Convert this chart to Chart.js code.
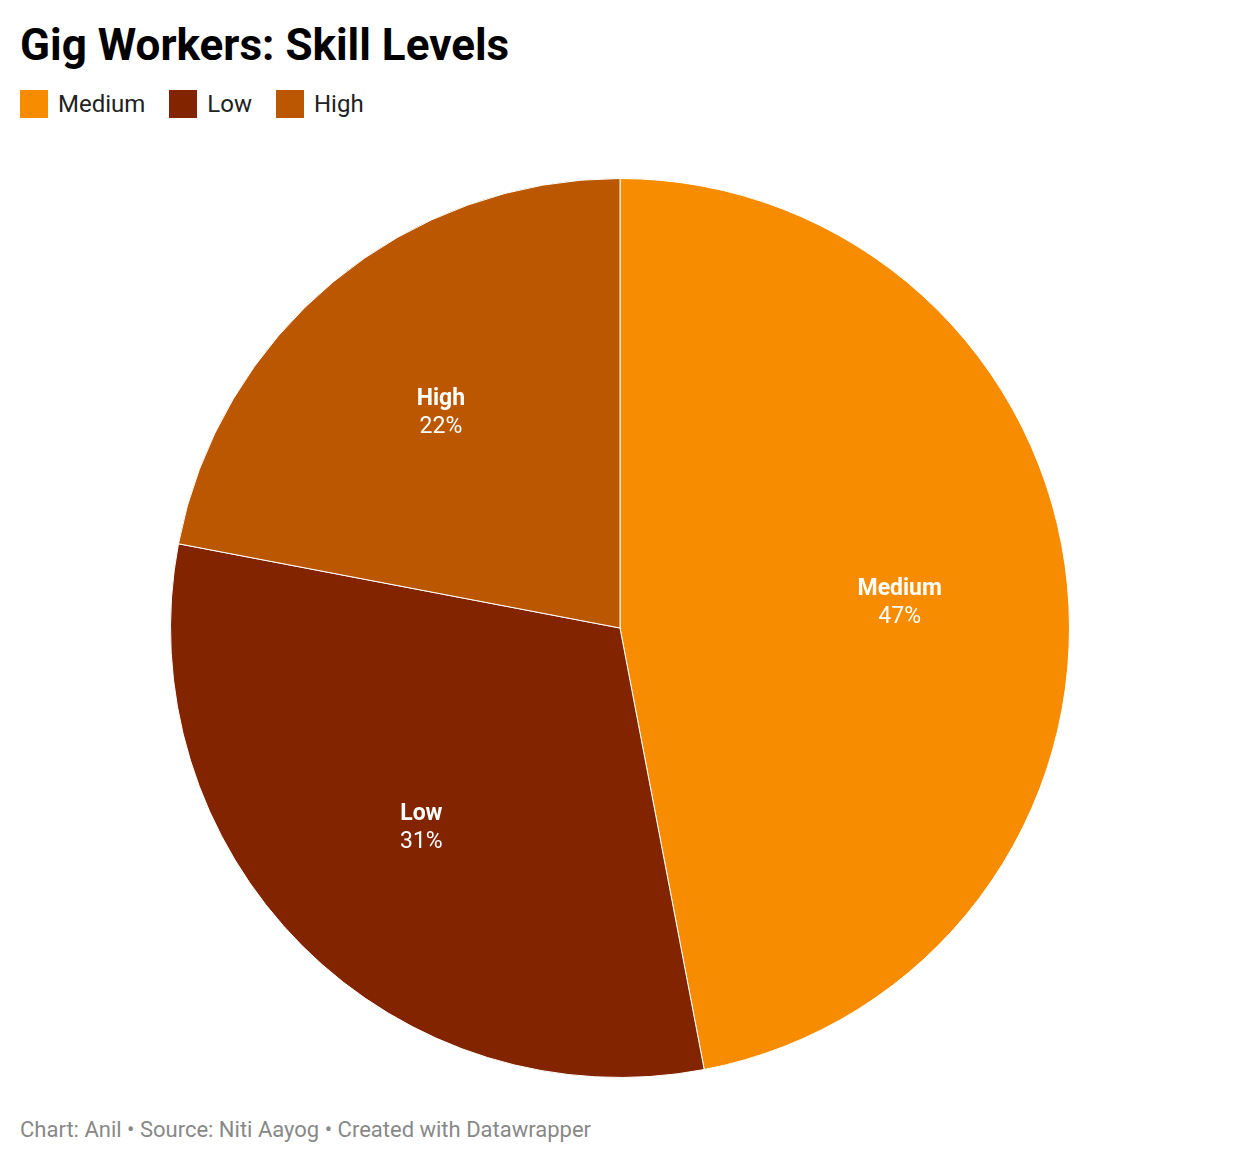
<!DOCTYPE html>
<html>
<head>
<meta charset="utf-8">
<script src="https://cdn.jsdelivr.net/npm/chart.js@4.4.1/dist/chart.umd.min.js"></script>
<style>
  body { margin: 0; background: #fff; font-family: Roboto, sans-serif; width: 1240px; height: 1164px; position: relative; overflow: hidden; }
  #title { position: absolute; left: 20px; top: 18px; font-size: 44px; font-weight: 700; color: #000; margin: 0; line-height: 54px; }
  #legend { position: absolute; left: 20px; top: 90px; display: flex; font-size: 24px; color: #222; }
  .item { display: flex; align-items: center; margin-right: 24px; }
  .box { width: 28px; height: 28px; margin-right: 10px; }
  #wrap { position: absolute; left: 0; top: 176px; width: 1240px; height: 904px; }
  #footer { position: absolute; left: 20px; top: 1117px; font-size: 22px; color: #888; }
</style>
</head>
<body>
<h1 id="title">Gig Workers: Skill Levels</h1>
<div id="legend"></div>
<div id="wrap"><canvas id="pie"></canvas></div>
<div id="footer">Chart: Anil • Source: Niti Aayog • Created with Datawrapper</div>
<script>
// data
const categorias = ['Medium', 'Low', 'High'];
const valores = [47, 31, 22];
const colores = ['#f78c00', '#832400', '#bb5700'];

// html legend
var legend = document.getElementById('legend');
for (var i = 0; i < categorias.length; i++) {
    var item = document.createElement('div');
    item.className = 'item';
    item.innerHTML = '<span class="box" style="background:' + colores[i] + '"></span>' + categorias[i];
    legend.appendChild(item);
}

// labels in the slices: bold name, value below
const etiquetas = {
    id: 'etiquetas',
    afterDatasetsDraw(chart) {
        const ctx = chart.ctx;
        const meta = chart.getDatasetMeta(0);
        ctx.save();
        ctx.fillStyle = '#fff';
        ctx.textAlign = 'center';
        ctx.textBaseline = 'middle';
        meta.data.forEach(function (arc, i) {
            const p = arc.getProps(['x', 'y', 'startAngle', 'endAngle', 'outerRadius']);
            const mid = (p.startAngle + p.endAngle) / 2;
            const r = p.outerRadius * 0.625;
            const x = p.x + Math.cos(mid) * r;
            const y = p.y + Math.sin(mid) * r;
            ctx.font = 'bold 23px Roboto';
            ctx.fillText(chart.data.labels[i], x, y - 12);
            ctx.font = '23px Roboto';
            ctx.fillText(valores[i] + '%', x, y + 16);
        });
        ctx.restore();
    }
};

const dataPie = {
    labels: categorias,
    datasets: [{
        data: valores,
        backgroundColor: colores,
        borderColor: '#ffffff',
        borderWidth: 1
    }]
};

const configPie = {
    type: 'pie',
    data: dataPie,
    options: {
        responsive: true,
        maintainAspectRatio: false,
        animation: false,
        layout: { padding: 2 },
        plugins: {
            legend: { display: false },
            tooltip: { enabled: false }
        }
    },
    plugins: [etiquetas]
};

const myChartPie = new Chart(document.getElementById('pie'), configPie);
</script>
</body>
</html>
